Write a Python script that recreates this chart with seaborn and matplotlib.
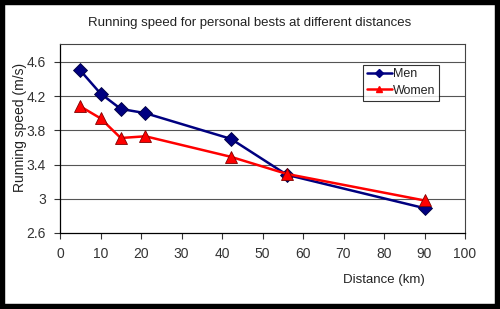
import numpy as np
import pandas as pd
import matplotlib
matplotlib.use('Agg')
import matplotlib.pyplot as plt
import seaborn as sns
from matplotlib.patches import Rectangle
from matplotlib.lines import Line2D

# ========== 数据 ==========
distance_km = [5, 10, 15, 21.1, 42.2, 56, 90]
men_speed = [4.50, 4.23, 4.05, 4.00, 3.70, 3.28, 2.89]
women_speed = [4.08, 3.94, 3.71, 3.73, 3.49, 3.29, 2.98]
series = ['Men', 'Women']
y_ticks = [2.6, 3.0, 3.4, 3.8, 4.2, 4.6]
y_labels = ['2.6', '3', '3.4', '3.8', '4.2', '4.6']
x_ticks = list(range(0, 101, 10))

df = pd.DataFrame({
    'distance': distance_km * 2,
    'speed': men_speed + women_speed,
    'sex': ['Men'] * len(distance_km) + ['Women'] * len(distance_km),
})

sns.set_style('white')
plt.rcParams['font.family'] = ['Liberation Sans', 'DejaVu Sans']

fig = plt.figure(figsize=(5, 3.09), dpi=100)
ax = fig.add_axes([0.12, 0.246, 0.81, 0.612])

sns.lineplot(data=df, x='distance', y='speed', hue='sex', style='sex',
             hue_order=series, style_order=series,
             palette={'Men': '#000080', 'Women': '#ff0000'},
             markers={'Men': 'D', 'Women': '^'}, dashes=False,
             markersize=7.5, linewidth=1.8, ax=ax, legend=False)
# 标记描边，三角形稍大
for line, ec, ms in zip(ax.get_lines(), ['#000040', '#800000'], [7.5, 9]):
    line.set_markeredgecolor(ec)
    line.set_markeredgewidth(0.6)
    line.set_markersize(ms)

ax.set_xlim(0, 100)
ax.set_ylim(2.6, 4.81)
ax.set_xticks(x_ticks)
ax.set_yticks(y_ticks)
ax.set_yticklabels(y_labels)
ax.tick_params(axis='both', labelsize=10, colors='#333333', length=4,
               direction='out', bottom=True, left=True, width=0.8)
ax.tick_params(axis='y', pad=6)
ax.tick_params(axis='x', pad=6)
for yv in y_ticks[1:]:
    ax.axhline(yv, color='#555555', lw=0.8, zorder=0)

for side in ['left', 'bottom']:
    ax.spines[side].set_color('black')
    ax.spines[side].set_linewidth(0.9)
for side in ['top', 'right']:
    ax.spines[side].set_color('#444444')
    ax.spines[side].set_linewidth(0.8)

ax.set_xlabel('')
ax.set_ylabel('')
fig.text(0.04, 0.586, 'Running speed (m/s)', rotation=90, ha='center',
         va='center', fontsize=10, color='#222222')
fig.text(0.768, 0.095, 'Distance (km)', ha='center', va='center',
         fontsize=9.5, color='#222222')
fig.text(0.5, 0.925, 'Running speed for personal bests at different distances',
         ha='center', va='center', fontsize=9.5, color='#222222')

# 图例
handles = [Line2D([], [], color='#000080', marker='D', markersize=4, lw=1.8),
           Line2D([], [], color='#ff0000', marker='^', markersize=5, lw=1.8)]
leg = ax.legend(handles, series, loc='upper left', bbox_to_anchor=(0.748, 0.89),
                fontsize=9, frameon=True, fancybox=False, borderpad=0.3,
                handlelength=2.0, handletextpad=0.1, labelspacing=0.35,
                borderaxespad=0)
leg.get_frame().set_edgecolor('black')
leg.get_frame().set_linewidth(0.8)
for t in leg.get_texts():
    t.set_color('#222222')

# 黑色外框
fig.patches.append(Rectangle((0, 0), 1, 1, transform=fig.transFigure,
                             fill=False, edgecolor='black', linewidth=7.5,
                             zorder=10))

fig.savefig('out.png', dpi=100)
